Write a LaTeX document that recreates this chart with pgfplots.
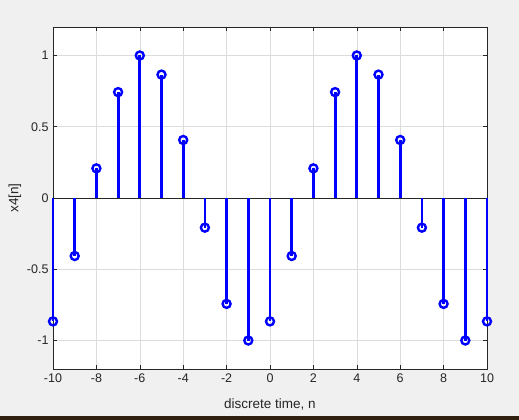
\documentclass[border=0pt]{standalone}
\usepackage{fontspec}
\setmainfont{Liberation Sans}
\usepackage{pgfplots}
\pgfplotsset{compat=1.18}
\definecolor{figbg}{HTML}{F0F0F0}
\definecolor{axc}{HTML}{262626}
\definecolor{gridc}{HTML}{DCDCDC}
\begin{document}
\begin{tikzpicture}[x=1pt,y=1pt]
\fill[figbg] (-53,-51) rectangle (466,369);
\fill[black!75!brown] (-53,-51) rectangle (466,-47);
\begin{axis}[
  at={(0,0)}, anchor=south west,
  scale only axis, width=434pt, height=342pt,
  xmin=-10, xmax=10, ymin=-1.2, ymax=1.2,
  axis background/.style={fill=white},
  axis line style={axc, line width=0.8pt},
  xtick={-10,-8,...,10}, ytick={-1,-0.5,0,0.5,1},
  yticklabels={-1,-0.5,0,0.5,1},
  xticklabels={-10,-8,-6,-4,-2,0,2,4,6,8,10},
  tick align=inside, major tick length=4pt,
  tick style={axc, line width=0.6pt},
  grid=major, major grid style={gridc, line width=0.6pt},
  ticklabel style={font=\fontsize{12.5}{14}\selectfont, text=axc},
  yticklabel style={xshift=-1pt},
  xticklabel style={yshift=-1pt},
  label style={font=\fontsize{13.5}{15}\selectfont, text=axc},
  xlabel={discrete time, n},
  ylabel={x4[n]},
  xlabel style={at={(axis description cs:0.5,-0.105)}, anchor=center},
  ylabel style={at={(axis description cs:-0.0876,0.5)}, anchor=center},
  clip=false,
]
\addplot[axc, line width=0.8pt, forget plot] coordinates {(-10,0) (10,0)};
\addplot[ycomb, blue, line width=2.8pt, mark=o, mark size=4pt,
  mark options={line width=2.4pt, fill=none}] coordinates {
(-10,-0.866) (-9,-0.407) (-8,0.208) (-7,0.743) (-6,1) (-5,0.866) (-4,0.407)
(-3,-0.208) (-2,-0.743) (-1,-1) (0,-0.866) (1,-0.407) (2,0.208) (3,0.743)
(4,1) (5,0.866) (6,0.407) (7,-0.208) (8,-0.743) (9,-1) (10,-0.866)};
\end{axis}
\end{tikzpicture}
\end{document}
